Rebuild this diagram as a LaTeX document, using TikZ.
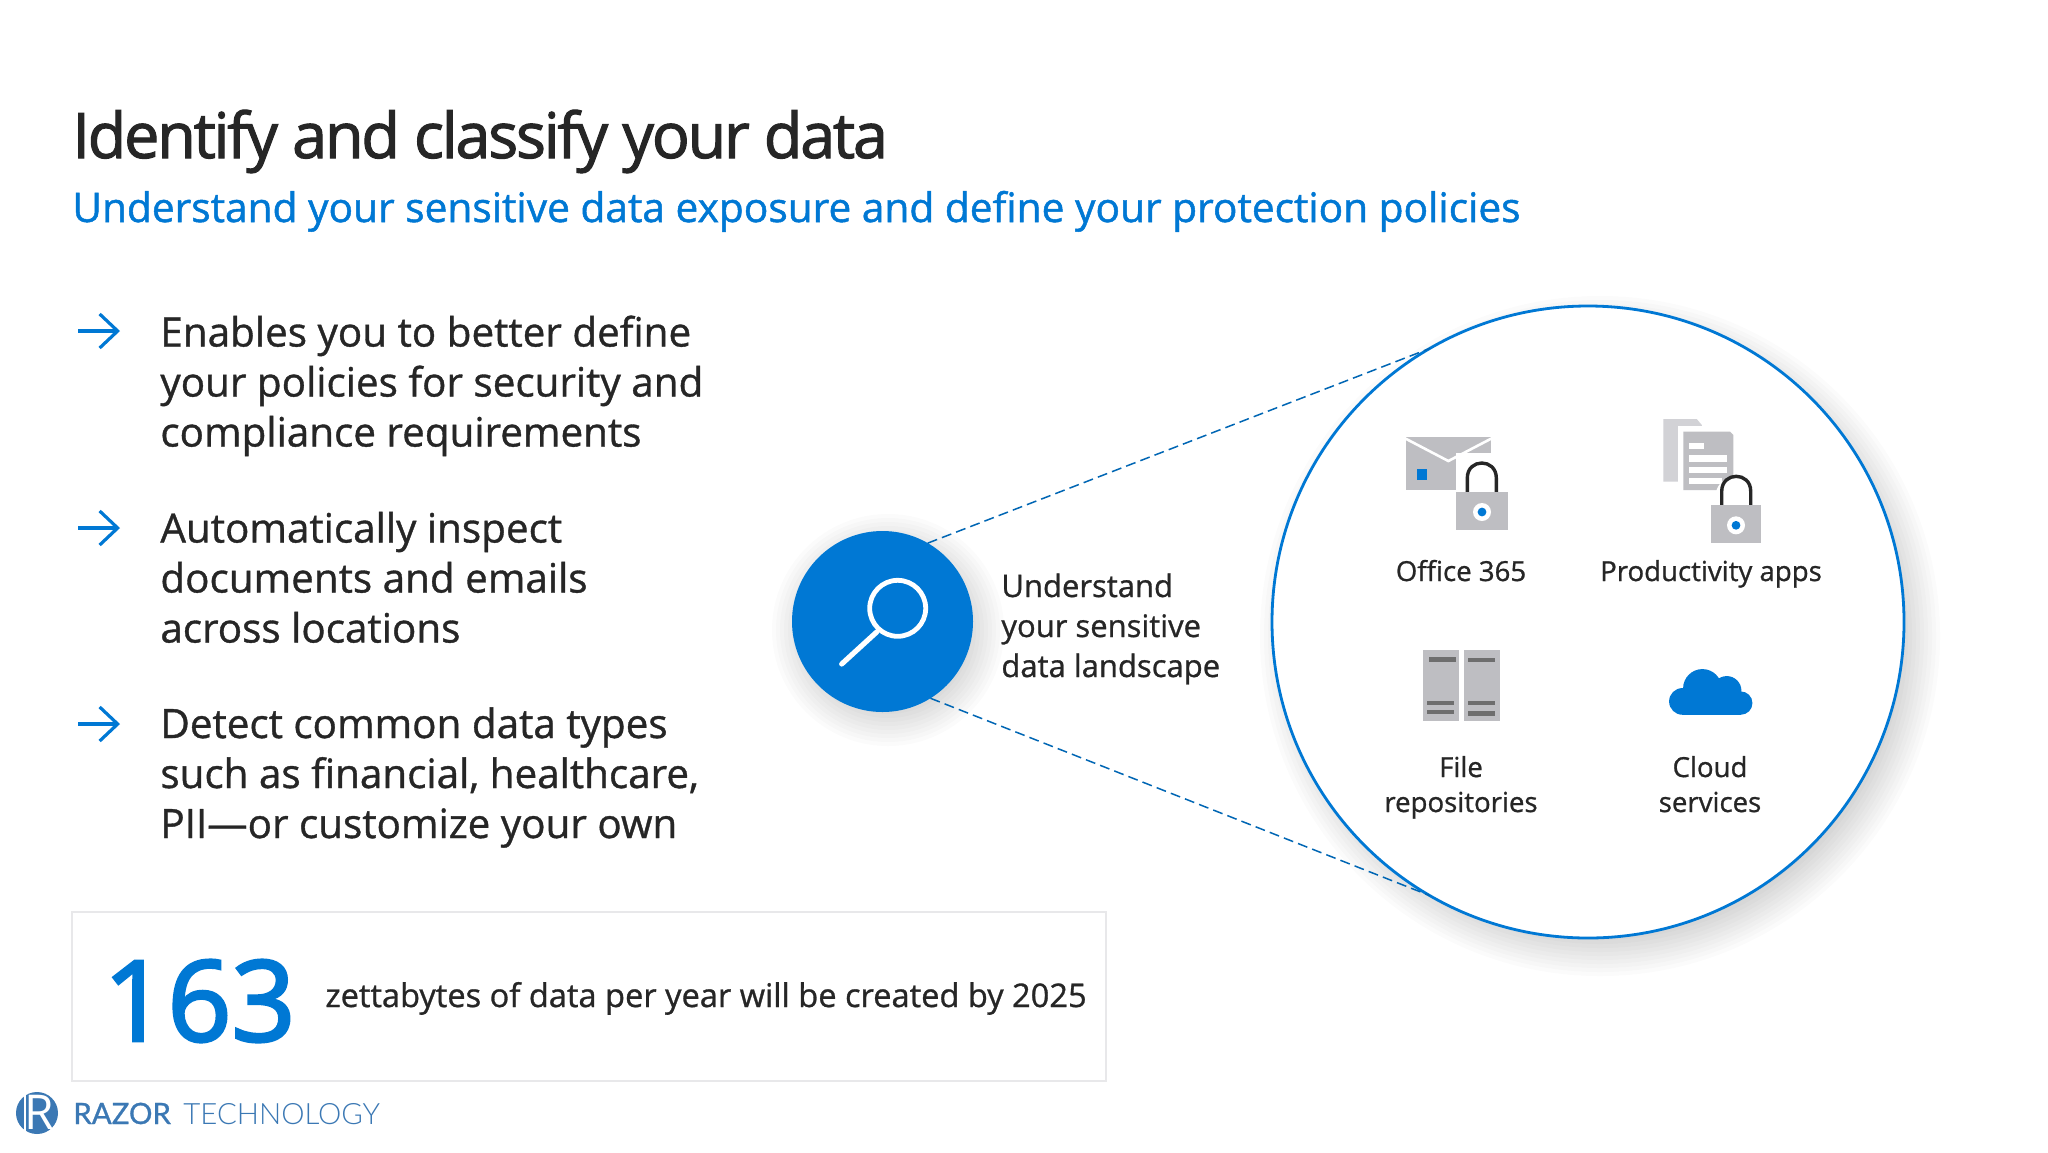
\documentclass[tikz,border=0pt]{standalone}
\usepackage{fontspec}
\setmainfont{Open Sans}
\newfontfamily\bodyfont[FakeBold=0.9]{Open Sans}
\newfontfamily\subfont[FakeBold=1.2]{Open Sans}
\newfontfamily\titlefont[LetterSpace=-3.6,FakeBold=1.7]{Open Sans}
\newfontfamily\numfont[FakeBold=2.6]{Open Sans}
\newfontfamily\logofont[FakeBold=0.9]{Lato}
\newfontfamily\logolight{Lato Light}
\usetikzlibrary{arrows.meta}
\definecolor{msblue}{HTML}{0078D4}
\definecolor{ink}{HTML}{262626}
\definecolor{iconb}{HTML}{BEBEC2}
\definecolor{iconl}{HTML}{D2D2D6}
\definecolor{bardark}{HTML}{6E6E6E}
\definecolor{boxline}{HTML}{E8E8EA}
\definecolor{logoblue}{HTML}{3B78B4}
\newcommand{\pxfont}[2]{\fontsize{#1}{#2}\selectfont}
\tikzset{
  body/.style={anchor=base west,inner sep=0,text=ink,font=\bodyfont\pxfont{20.2}{25}},
  label/.style={anchor=base,inner sep=0,text=ink,font=\bodyfont\pxfont{13.8}{17}},
  point/.style={draw=msblue,line width=1.6pt,-{Straight Barb[length=9pt,width=17pt]}},
  dashline/.style={draw=msblue!85!black,line width=.75pt,dash pattern=on 5pt off 2.6pt},
  shackle/.style={draw=ink,line width=1.7pt,fill=none},
}
\newcommand{\lock}[3]{% x of left, y of top of body, width
  \begin{scope}[shift={(#1,#2)}]
    \draw[shackle] (11,0) -- (11,-14) .. controls (11,-34) and (40,-34) .. (40,-14) -- (40,0);
    \fill[iconb] (0,0) rectangle (#3,37.5);
    \fill[white] (#3/2,20) circle (9);
    \fill[msblue] (#3/2,20) circle (4.4);
  \end{scope}}
\begin{document}
\begin{tikzpicture}[x=0.5pt,y=-0.5pt]
\useasboundingbox (0,0) rectangle (2048,1152);
\fill[white] (0,0) rectangle (2048,1152);

% title
\node[anchor=base west,inner sep=0,text=ink,font=\titlefont\pxfont{31.5}{36}] (title) at (72,158) {Identify and classify your data};
\node[anchor=base west,inner sep=0,text=msblue,font=\subfont\pxfont{20.33}{25}] (subtitle) at (72,222) {Understand your sensitive data exposure and define your protection policies};

% bullets
\coordinate (a1s) at (78,331); \coordinate (a1e) at (120,331);
\coordinate (a2s) at (78,528); \coordinate (a2e) at (120,528);
\coordinate (a3s) at (78,724); \coordinate (a3e) at (120,724);
\draw[point] (a1s) -- (a1e);
\draw[point] (a2s) -- (a2e);
\draw[point] (a3s) -- (a3e);
\node[body] (b11) at (160,346.5) {Enables you to better define};
\node[body] (b12) at (160,396.5) {your policies for security and};
\node[body] (b13) at (160,446.5) {compliance requirements};
\node[body] (b21) at (160,542.5) {Automatically inspect};
\node[body] (b22) at (160,592.5) {documents and emails};
\node[body] (b23) at (160,642.5) {across locations};
\node[body] (b31) at (160,738) {Detect common data types};
\node[body] (b32) at (160,788) {such as financial, healthcare,};
\node[body] (b33) at (160,838) {PII—or customize your own};

% stat box
\node[draw=boxline,line width=1.2pt,fill=white,inner sep=0,anchor=north west,minimum width=517pt,minimum height=84.5pt] (statbox) at (71,911) {};
\node[anchor=base west,inner sep=0,text=msblue,font=\numfont\pxfont{56}{60}] (num) at (103,1041) {163};
\node[anchor=base west,inner sep=0,text=ink,font=\bodyfont\pxfont{16.3}{20}] (zetta) at (325,1007) {zettabytes of data per year will be created by 2025};

% shadows
\foreach \r in {340,336,...,300}{\fill[black,opacity=.014] (1600,636) circle (\r);}
\foreach \r in {116,112,...,84}{\fill[black,opacity=.014] (888,630) circle (\r);}

% circles
\node[circle,fill=white,draw=msblue,line width=1.4pt,minimum size=316pt,inner sep=0,outer sep=0] (big) at (1588,622) {};
\node[circle,fill=msblue,minimum size=90.5pt,inner sep=0,outer sep=0] (hub) at (882.5,621.5) {};
\draw[dashline] (hub.60) -- (big.120.5);
\draw[dashline] (hub.-58) -- (big.-120.5);

% magnifier
\draw[white,line width=2.4pt] (897.7,608.3) circle (28);
\draw[white,line width=2.6pt,line cap=round] (876.7,632) -- (841.7,664);
\node[anchor=base west,inner sep=0,text=ink,font=\bodyfont\pxfont{15.5}{20}] (u1) at (1001,597) {Understand};
\node[anchor=base west,inner sep=0,text=ink,font=\bodyfont\pxfont{15.5}{20}] (u2) at (1001,637) {your sensitive};
\node[anchor=base west,inner sep=0,text=ink,font=\bodyfont\pxfont{15.5}{20}] (u3) at (1001,677) {data landscape};

% envelope icon
\begin{scope}[shift={(1350,400)},x=0.1667pt,y=-0.1667pt]
  \fill[iconb] (168,110) -- (422,110) -- (422,270) -- (168,270) -- cycle;
  \draw[white,line width=1.3pt] (165,115) -- (295,183) -- (425,115);
  \fill[msblue] (200,207) rectangle (232,239);
  \fill[white] (396,275) circle (78);
  \fill[white] (319,160) rectangle (430,276);
  % documents
  \fill[iconl] (940,57) -- (1040,57) -- (1055,75) -- (1055,245) -- (940,245) -- cycle;
  \fill[white] (985,78) rectangle (1160,280);
  \fill[iconb] (1000,95) -- (1140,95) -- (1150,105) -- (1150,270) -- (1000,270) -- cycle;
  \fill[white] (1017,130) rectangle (1062,148);
  \fill[white] (1017,165) rectangle (1132,185);
  \fill[white] (1017,200) rectangle (1132,218);
  \fill[white] (1017,235) rectangle (1115,253);
  \fill[white] (1158,290) circle (62);
  % file repositories
  \fill[iconb] (219,750) rectangle (326,962);
  \fill[iconb] (342,750) rectangle (449,962);
  \fill[bardark] (237,771) rectangle (318,787);
  \fill[bardark] (354,773) rectangle (435,787);
  \fill[bardark] (231,902) rectangle (312,916);
  \fill[bardark] (231,929) rectangle (312,943);
  \fill[bardark] (354,902) rectangle (435,916);
  \fill[bardark] (354,934) rectangle (435,948);
  % cloud
  \fill[msblue] (1057,865) circle (58);
  \fill[msblue] (1130,872) circle (44);
  \fill[msblue] (997,904) circle (40);
  \fill[msblue] (1172,909) circle (35);
  \fill[msblue] (997,880) rectangle (1172,944);
\end{scope}
\lock{1456.3}{492}{51.4}
\lock{1710.7}{505.3}{50.6}
\node[label] (l1) at (1461,581) {Office 365};
\node[label] (l2) at (1711,581) {Productivity apps};
\node[label] (l3) at (1461,777) {File};
\node[label] (l4) at (1461,812) {repositories};
\node[label] (l5) at (1710,777) {Cloud};
\node[label] (l6) at (1710,812) {services};

% logo
\fill[logoblue] (37,1113) circle (21);
\draw[white,line width=.9pt] (25,1094) -- (25,1132);
\node[inner sep=0,text=white,font=\rmfamily\pxfont{24}{24}] (logoR) at (39,1112) {R};
\node[anchor=base west,inner sep=0,text=logoblue,font=\logofont\pxfont{14.7}{16}] (razor) at (73,1124) {RAZOR};
\node[anchor=base west,inner sep=0,text=logoblue,font=\logolight\pxfont{14.7}{16}] (tech) at (183,1124) {TECHNOLOGY};
\end{tikzpicture}
\end{document}
